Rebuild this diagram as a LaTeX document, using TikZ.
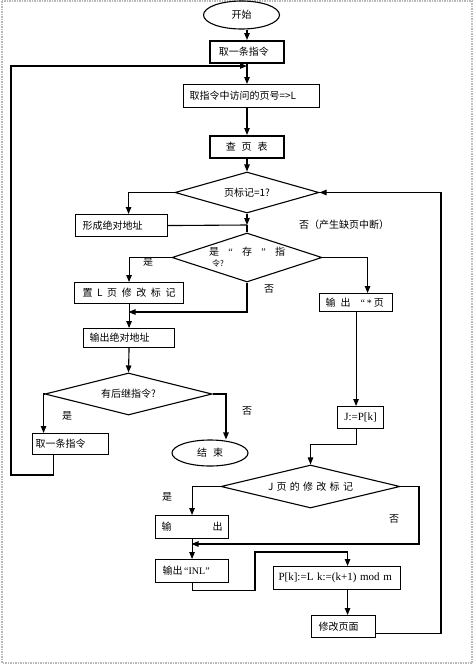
\documentclass[tikz,border=0pt]{standalone}
\usepackage{fontspec}
\setmainfont{Liberation Serif}
\newfontfamily\cjk{Noto Sans CJK SC}
\usetikzlibrary{shapes.geometric,arrows.meta}
\begin{document}
\begin{tikzpicture}[x=1pt,y=-1pt,
  every node/.style={font=\cjk\fontsize{10}{12}\selectfont},
  box/.style={draw, line width=1.1pt, anchor=north west, inner sep=0pt, align=left},
  dia/.style={diamond, draw, line width=1.1pt, inner sep=0pt, aspect=3},
  ell/.style={ellipse, draw, line width=1.1pt, inner sep=0pt},
  lab/.style={inner sep=0pt},
  ln/.style={line width=1.1pt},
  arr/.style={line width=1.1pt, -{Triangle[length=7pt,width=5.5pt]}},
  latin/.style={font=\rmfamily\fontsize{11}{13}\selectfont}]
\useasboundingbox (0,0) rectangle (474,672);
\draw[gray!55, line width=1.5pt, dash pattern=on 1.5pt off 1pt] (2,1) rectangle (472,663);

% nodes
\node[ell, minimum width=76pt, minimum height=28pt] (start) at (241.5,15) {开始};
\node[box, line width=1.5pt, minimum width=74pt, minimum height=22pt, inner xsep=9pt, text width=56pt] (b1) at (209,40) {取一条指令};
\node[box, minimum width=136pt, minimum height=23pt, inner xsep=6pt, text width=124pt] (b2) at (183,84) {取指令中访问的页号=>L};
\node[box, line width=1.5pt, minimum width=74pt, minimum height=22pt, inner xsep=5pt, text width=64pt, align=center] (b3) at (209,135) {查\hspace{6pt}页\hspace{6pt}表};
\node[dia, minimum width=144pt, minimum height=41pt] (d1) at (247,192.5) {页标记=1?};
\node[box, minimum width=92pt, minimum height=22pt, inner xsep=7pt, text width=78pt] (form) at (75,214) {形成绝对地址};
\node[dia, minimum width=150pt, minimum height=49pt, align=left] (d2) at (247,257.5) {\makebox[76pt][s]{是\hfill{\rmfamily“}\hfill 存\hfill{\rmfamily”}\hfill 指}\\[-1pt]\hspace{3pt}{\fontsize{8}{9}\selectfont 令?}};
\node[box, minimum width=109pt, minimum height=21pt, inner xsep=8pt, text width=93pt] (setL) at (74,282) {\makebox[93pt][s]{置\hfill L\hfill 页\hfill 修\hfill 改\hfill 标\hfill 记}};
\node[box, minimum width=73pt, minimum height=18pt, inner xsep=6pt, text width=61pt] (star) at (319,293) {\mbox{输\hspace{5pt}出\hspace{10pt}{\rmfamily“\hspace{2pt}*}\hspace{2pt}页}};
\node[box, minimum width=91pt, minimum height=19pt, inner xsep=6pt, text width=79pt] (outabs) at (83,328) {输出绝对地址};
\node[dia, minimum width=167pt, minimum height=42pt] (d3) at (128.5,394) {有后继指令?};
\node[box, minimum width=76pt, minimum height=21pt, inner xsep=3pt, text width=70pt] (b8) at (32,433) {取一条指令};
\node[ell, minimum width=76pt, minimum height=26pt] (end) at (210,453) {结\hspace{6pt}束};
\node[box, latin, minimum width=46pt, minimum height=22pt, inner xsep=3pt, text width=40pt, align=center] (J) at (337,406) {J:=P[k]};
\node[dia, minimum width=179pt, minimum height=43pt] (d4) at (310.5,486.5) {\makebox[85pt][s]{J\hfill 页\hfill 的\hfill 修\hfill 改\hfill 标\hfill 记}};
\node[box, minimum width=73pt, minimum height=23pt, inner xsep=6pt, text width=61pt] (out2) at (155,515) {\makebox[61pt][s]{输\hfill 出}};
\node[box, minimum width=73pt, minimum height=23pt, inner xsep=7pt, text width=59pt] (out3) at (155,559) {输出{\rmfamily\,“INL”}};
\node[box, font=\rmfamily\fontsize{11}{13}\selectfont, minimum width=127pt, minimum height=23pt, inner xsep=5pt, text width=117pt] (pk) at (273,566) {\mbox{P[k]:=L k:=(k+1) mod m}};
\node[box, minimum width=64pt, minimum height=22pt, inner xsep=7pt, text width=50pt] (mod) at (311,615) {修改页面};

% labels
\node[lab] (n1) at (344,225) {否（产生缺页中断）};
\node[lab] (y1) at (148,262) {是};
\node[lab] (n2) at (269,289) {否};
\node[lab] (y2) at (67,416) {是};
\node[lab] (n3) at (247,411) {否};
\node[lab] (y3) at (167,497) {是};
\node[lab] (n4) at (394,519) {否};

% connectors
\coordinate (sp) at (247,0);
\coordinate (j1) at (247,66);
\coordinate (j2) at (247,225);
\coordinate (j3) at (128.5,312);
\coordinate (j4) at (191.5,544);
\coordinate (rr) at (441,0);
\draw[arr] (start.south -| sp) -- (b1.north -| sp);
\draw[arr] (b1.south -| sp) -- (b2.north -| sp);
\draw[arr] (b2.south -| sp) -- (b3.north -| sp);
\draw[arr] (b3.south -| sp) -- (d1.north);
\draw[arr] (d1.west) -| ([xshift=7pt]form.north);
\draw[arr] (d1.south) -- (j2);
\draw[ln] (form.east) -- (j2);
\draw[ln] (j2) -- (d2.north);
\draw[arr] (d2.west) -| (setL.north);
\draw[arr] (d2.south) |- (j3);
\draw[arr] (setL.south) -- (outabs.north);
\draw[arr] (d2.east) -| ([xshift=11.5pt]star.north);
\draw[arr] (star.south) -- (star.south |- J.north);
\draw[arr] (J.south -| star.south) -- ++(0,15) -| (d4.north);
\draw[arr] (outabs.south) -- (d3.north);
\draw[arr] (d3.west) -| ([xshift=-27pt]b8.north);
\draw[arr] (d3.east) -| ([xshift=16pt]end.north);
\draw[arr] ([xshift=-17pt]b8.south) |- (11,475) |- (j1);
\draw[arr] (d4.west) -| (out2.north);
\draw[arr] (d4.east) -| (419,544) -- (j4);
\draw[arr] (out2.south) -- (out3.north);
\draw[arr] (out3.south) -- ++(0,7) -| (255,552) -| ([xshift=10.5pt]pk.north);
\draw[arr] ([xshift=10.5pt]pk.south) -- ([xshift=10.5pt]pk.south |- mod.north);
\draw[arr] ([yshift=-7pt]mod.east) -| (d1.east -| rr) -- (d1.east);
\end{tikzpicture}
\end{document}
